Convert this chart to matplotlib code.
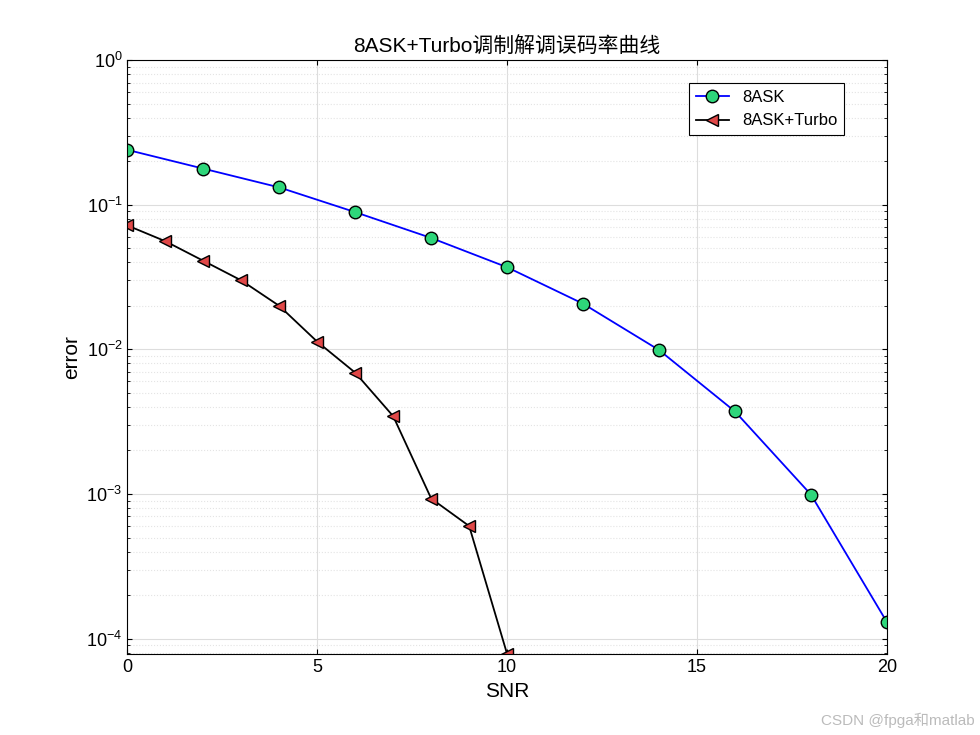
import matplotlib
matplotlib.use("Agg")
import matplotlib.pyplot as plt
from matplotlib.ticker import LogLocator, NullFormatter

plt.rcParams['font.family'] = ['Liberation Sans', 'Noto Sans CJK SC', 'DejaVu Sans']
plt.rcParams['mathtext.fontset'] = 'custom'
plt.rcParams['mathtext.rm'] = 'Liberation Sans'

snr_ask = [0, 2, 4, 6, 8, 10, 12, 14, 16, 18, 20]
err_ask = [0.24, 0.178, 0.132, 0.089, 0.059, 0.037, 0.0207, 0.0099, 0.00372, 0.00099, 1.3e-4]
snr_turbo = [0, 1, 2, 3, 4, 5, 6, 7, 8, 9, 10]
err_turbo = [0.072, 0.056, 0.041, 0.030, 0.0200, 0.0113, 0.0069, 0.00345, 9.3e-4, 6.0e-4, 7.8e-5]

fig = plt.figure(figsize=(9.8, 7.35), dpi=100)
ax = fig.add_axes([0.13, 0.110, 0.775, 0.808])
ax.semilogy(snr_ask, err_ask, '-o', color='#0000ff', markerfacecolor='#2ed67a',
            markeredgecolor='black', markersize=9, linewidth=1.3, label='8ASK')
ax.semilogy(snr_turbo, err_turbo, '-<', color='black', markerfacecolor='#e04848',
            markeredgecolor='black', markersize=9, linewidth=1.3, label='8ASK+Turbo')
ax.set_xlim(0, 20)
ax.set_ylim(7.8e-5, 1)
ax.set_xticks([0, 5, 10, 15, 20])
ax.yaxis.set_major_locator(LogLocator(base=10, numticks=10))
ax.yaxis.set_minor_locator(LogLocator(base=10, subs=range(2, 10), numticks=50))
ax.yaxis.set_minor_formatter(NullFormatter())
ax.grid(True, which='major', color='#dddddd', linewidth=0.8)
ax.grid(True, which='minor', color='#e4e4e4', linestyle=':', linewidth=0.8)
ax.tick_params(labelsize=13, direction='in', which='both', top=True, right=True)
for s in ax.spines.values():
    s.set_linewidth(0.8)
ax.set_xlabel('SNR', fontsize=15)
ax.set_ylabel('error', fontsize=15)
ax.set_title('8ASK+Turbo调制解调误码率曲线', fontsize=15)
leg = ax.legend(loc='upper right', fontsize=12, fancybox=False, edgecolor='black',
                framealpha=1, bbox_to_anchor=(0.955, 0.975))
leg.get_frame().set_linewidth(0.8)
fig.text(0.995, 0.01, 'CSDN @fpga和matlab', ha='right', va='bottom', fontsize=11, color='#bbbbbb')
fig.savefig('out.png', dpi=100)
